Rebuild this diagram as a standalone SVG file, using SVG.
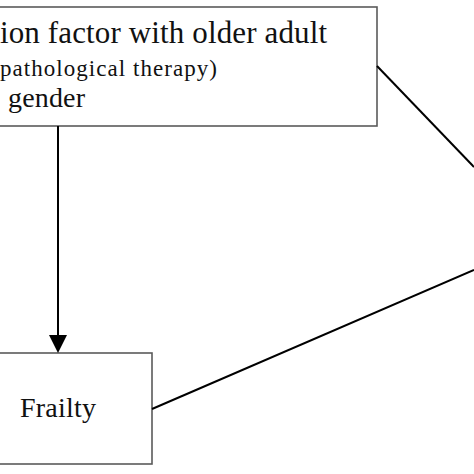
<svg xmlns="http://www.w3.org/2000/svg" width="474" height="474" viewBox="0 0 474 474">
<style>
.box{fill:#fff;stroke:#5a5a5a;stroke-width:1.6}
.t{font-family:"Liberation Serif","Times New Roman",serif;fill:#111}
.c{stroke:#000;stroke-width:2;fill:none}
</style>
<rect width="474" height="474" fill="#fff"/>
<g id="node-factor">
<rect class="box" x="-10" y="7" width="387" height="119"/>
<text class="t" x="0" y="43" font-size="31" textLength="327" lengthAdjust="spacing">ion factor with older adult</text>
<text class="t" x="0" y="76" font-size="23" textLength="217" lengthAdjust="spacing">pathological therapy)</text>
<text class="t" x="8" y="107" font-size="28" textLength="77" lengthAdjust="spacing">gender</text>
</g>
<g id="node-frailty">
<rect class="box" x="-10" y="353" width="162" height="111"/>
<text class="t" x="20" y="417" font-size="28" textLength="76" lengthAdjust="spacing">Frailty</text>
</g>
<g id="connectors">
<line class="c" x1="58" y1="126" x2="58" y2="337"/>
<polygon points="49,335 67,335 58,353" fill="#000"/>
<line class="c" x1="377" y1="66" x2="474" y2="167"/>
<line class="c" x1="152" y1="409" x2="474" y2="270"/>
</g>
</svg>
